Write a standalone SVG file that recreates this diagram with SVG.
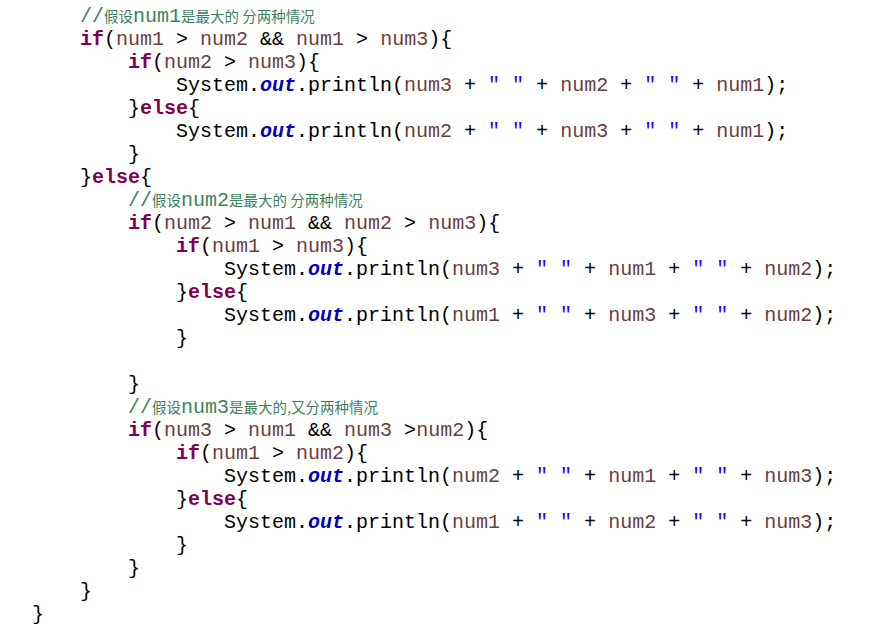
<svg xmlns="http://www.w3.org/2000/svg" width="890" height="639" viewBox="0 0 890 639">
<style>
text{font-family:"Liberation Mono","Noto Sans CJK SC",monospace;font-size:20px;fill:#000;white-space:pre}
.k{fill:#7F0055;font-weight:bold}
.v{fill:#6A3E3E}
.o{fill:#0000C0;font-weight:bold;font-style:italic}
.s{fill:#2A00FF}
.c{fill:#3F7F5F}
.z{font-family:"Noto Sans CJK SC",sans-serif;font-size:14.5px}
</style>
<rect width="890" height="639" fill="#fff"/>
<g id="code">
<text x="80" y="22" class="c">//<tspan class="z">假设</tspan>num1<tspan class="z">是最大的 分两种情况</tspan></text>
<text x="80" y="45"><tspan class="k">if</tspan>(<tspan class="v">num1</tspan> &gt; <tspan class="v">num2</tspan> &amp;&amp; <tspan class="v">num1</tspan> &gt; <tspan class="v">num3</tspan>){</text>
<text x="128" y="68"><tspan class="k">if</tspan>(<tspan class="v">num2</tspan> &gt; <tspan class="v">num3</tspan>){</text>
<text x="176" y="91">System.<tspan class="o">out</tspan>.println(<tspan class="v">num3</tspan> + <tspan class="s">" "</tspan> + <tspan class="v">num2</tspan> + <tspan class="s">" "</tspan> + <tspan class="v">num1</tspan>);</text>
<text x="128" y="114">}<tspan class="k">else</tspan>{</text>
<text x="176" y="137">System.<tspan class="o">out</tspan>.println(<tspan class="v">num2</tspan> + <tspan class="s">" "</tspan> + <tspan class="v">num3</tspan> + <tspan class="s">" "</tspan> + <tspan class="v">num1</tspan>);</text>
<text x="128" y="160">}</text>
<text x="80" y="183">}<tspan class="k">else</tspan>{</text>
<text x="128" y="206" class="c">//<tspan class="z">假设</tspan>num2<tspan class="z">是最大的 分两种情况</tspan></text>
<text x="128" y="229"><tspan class="k">if</tspan>(<tspan class="v">num2</tspan> &gt; <tspan class="v">num1</tspan> &amp;&amp; <tspan class="v">num2</tspan> &gt; <tspan class="v">num3</tspan>){</text>
<text x="176" y="252"><tspan class="k">if</tspan>(<tspan class="v">num1</tspan> &gt; <tspan class="v">num3</tspan>){</text>
<text x="224" y="275">System.<tspan class="o">out</tspan>.println(<tspan class="v">num3</tspan> + <tspan class="s">" "</tspan> + <tspan class="v">num1</tspan> + <tspan class="s">" "</tspan> + <tspan class="v">num2</tspan>);</text>
<text x="176" y="298">}<tspan class="k">else</tspan>{</text>
<text x="224" y="321">System.<tspan class="o">out</tspan>.println(<tspan class="v">num1</tspan> + <tspan class="s">" "</tspan> + <tspan class="v">num3</tspan> + <tspan class="s">" "</tspan> + <tspan class="v">num2</tspan>);</text>
<text x="176" y="344">}</text>
<text x="128" y="390">}</text>
<text x="128" y="413" class="c">//<tspan class="z">假设</tspan>num3<tspan class="z">是最大的,又分两种情况</tspan></text>
<text x="128" y="436"><tspan class="k">if</tspan>(<tspan class="v">num3</tspan> &gt; <tspan class="v">num1</tspan> &amp;&amp; <tspan class="v">num3</tspan> &gt;<tspan class="v">num2</tspan>){</text>
<text x="176" y="459"><tspan class="k">if</tspan>(<tspan class="v">num1</tspan> &gt; <tspan class="v">num2</tspan>){</text>
<text x="224" y="482">System.<tspan class="o">out</tspan>.println(<tspan class="v">num2</tspan> + <tspan class="s">" "</tspan> + <tspan class="v">num1</tspan> + <tspan class="s">" "</tspan> + <tspan class="v">num3</tspan>);</text>
<text x="176" y="505">}<tspan class="k">else</tspan>{</text>
<text x="224" y="528">System.<tspan class="o">out</tspan>.println(<tspan class="v">num1</tspan> + <tspan class="s">" "</tspan> + <tspan class="v">num2</tspan> + <tspan class="s">" "</tspan> + <tspan class="v">num3</tspan>);</text>
<text x="176" y="551">}</text>
<text x="128" y="574">}</text>
<text x="80" y="597">}</text>
<text x="32" y="620">}</text>
</g>
</svg>
